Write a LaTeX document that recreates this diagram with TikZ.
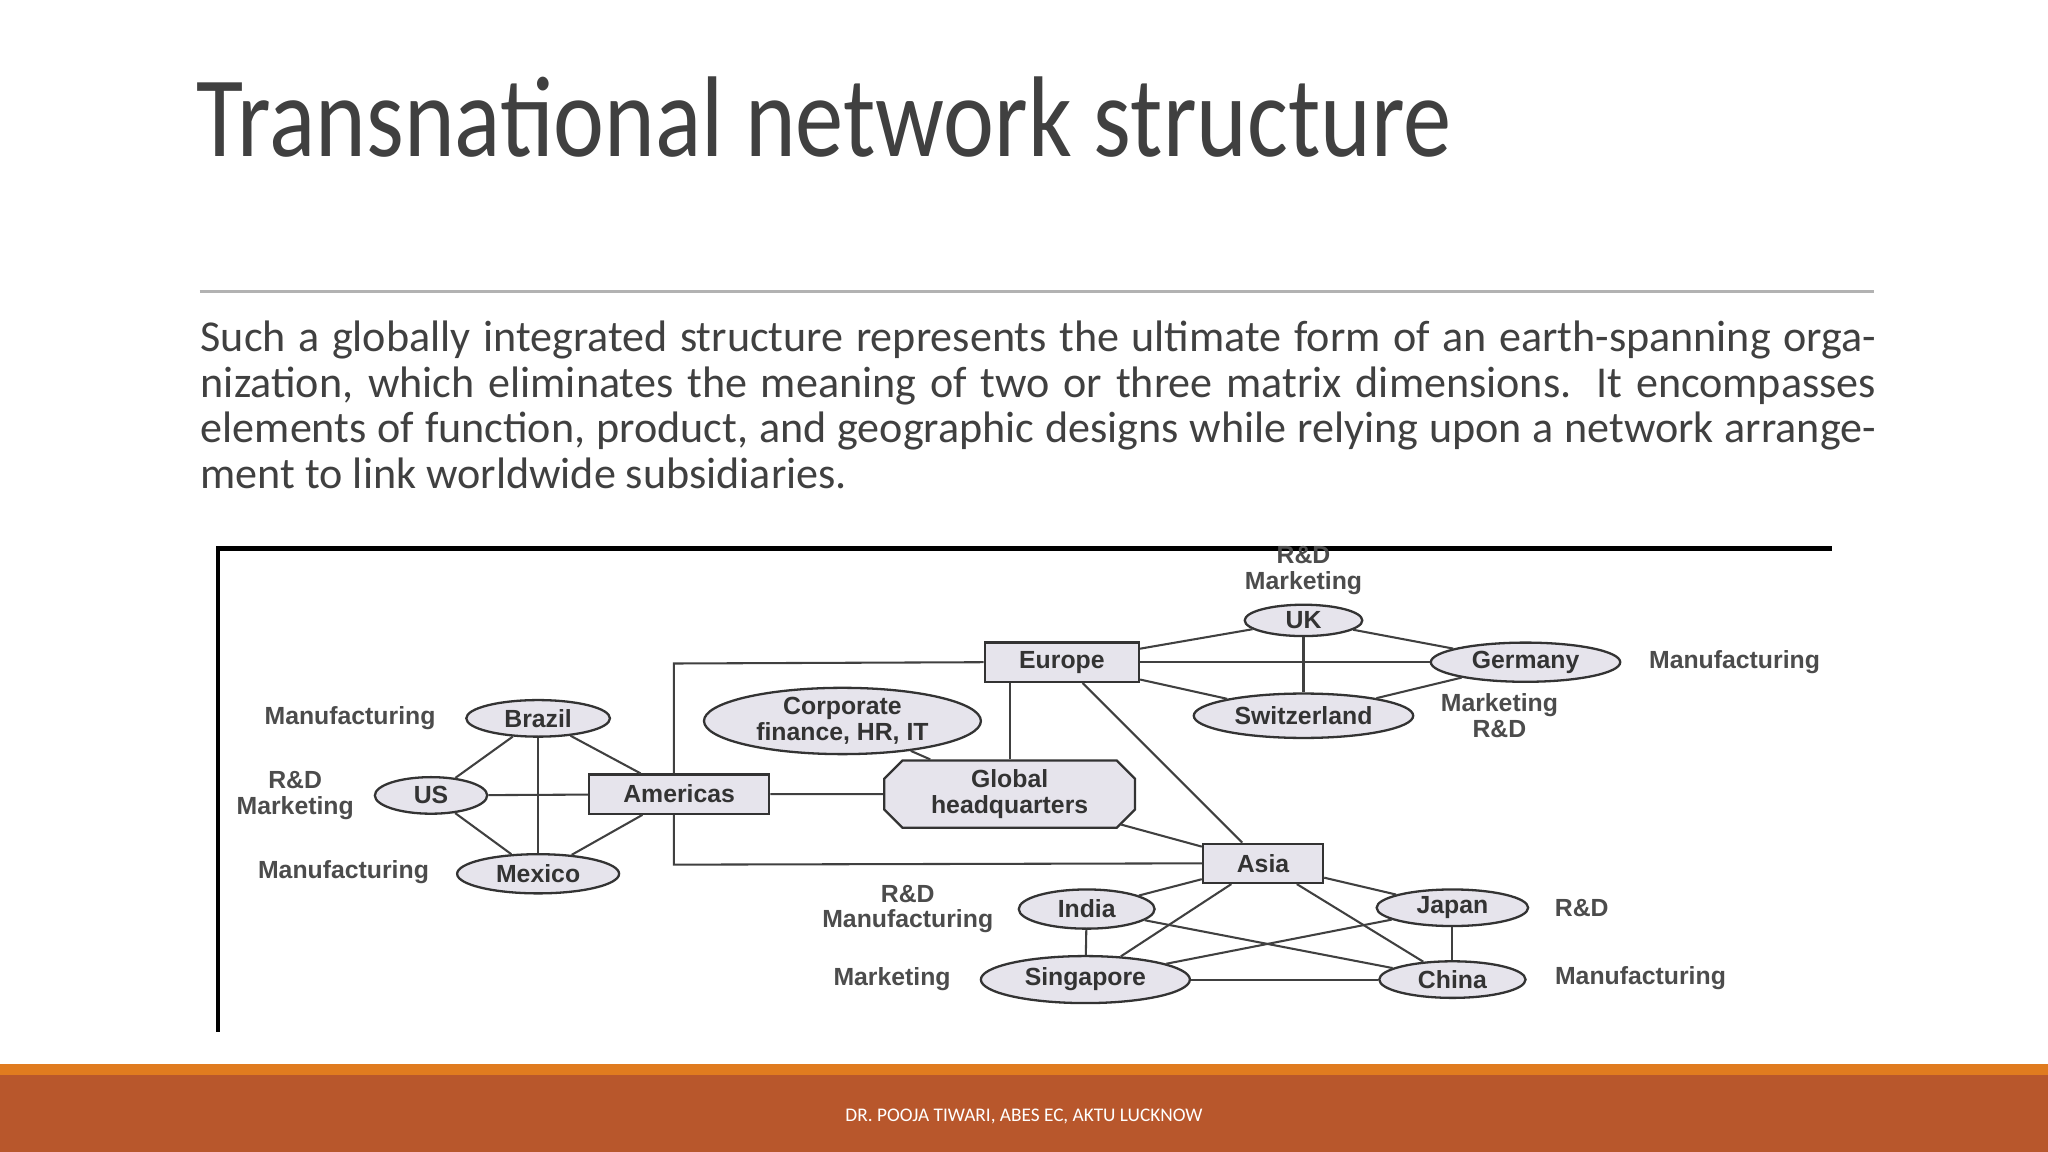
\documentclass[tikz,border=0pt]{standalone}
\usepackage{fontspec}
\setmainfont{Carlito}
\newfontfamily\diag{Liberation Sans}
\usetikzlibrary{shapes.geometric,shapes.misc}
\definecolor{txt}{HTML}{404040}
\definecolor{nodefill}{HTML}{E6E4EC}
\definecolor{footA}{HTML}{E07B1F}
\definecolor{footB}{HTML}{B8572C}
\tikzset{
 dfont/.style={font=\diag\fontsize{5.4}{5.6}\selectfont\bfseries},
 ell/.style={ellipse,draw=black!80,fill=nodefill,line width=0.5pt,inner sep=0,dfont,text=black!80,align=center},
 box/.style={rectangle,draw=black!80,fill=nodefill,line width=0.5pt,inner sep=0,dfont,text=black!80,align=center},
 lab/.style={dfont,text=black!70,align=center,inner sep=0},
 edge/.style={draw=black!75,line width=0.45pt}
}
\begin{document}
\begin{tikzpicture}[x=0.01cm,y=-0.01cm]
\useasboundingbox (0,0) rectangle (1568,882);
\fill[white] (0,0) rectangle (1568,882);
% title
\node[anchor=base west,inner sep=0,text=txt,font=\fontsize{25}{28}\selectfont] (title) at (150,120) {\scalebox{0.84}[1]{Transnational network structure}};
\draw[black!30,line width=0.6pt] (153,223) -- (1435,223);
\node[anchor=north west,inner sep=0,text=txt,text width=12.82cm,align=justify,font=\fontsize{9.6}{9.95}\selectfont] (para) at (153,245) {Such a globally integrated structure represents the ultimate form of an earth-spanning organization, which eliminates the meaning of two or three matrix dimensions. It encompasses elements of function, product, and geographic designs while relying upon a network arrangement to link worldwide subsidiaries.};
% diagram frame
\draw[black,line width=1pt] (167,790) -- (167,420) -- (1403,420);
% nodes
\node[ell,minimum width=90*0.01cm,minimum height=24*0.01cm] (UK) at (998,475) {UK};
\node[ell,minimum width=145*0.01cm,minimum height=30*0.01cm] (Germany) at (1168,507) {Germany};
\node[box,minimum width=118*0.01cm,minimum height=30*0.01cm] (Europe) at (813,507) {Europe};
\node[ell,minimum width=168*0.01cm,minimum height=34*0.01cm] (Switz) at (998,548) {Switzerland};
\node[ell,minimum width=212*0.01cm,minimum height=50*0.01cm] (Corp) at (645,552) {Corporate\\finance, HR, IT};
\node[chamfered rectangle,chamfered rectangle xsep=0.07cm,chamfered rectangle ysep=0.07cm,draw=black!80,fill=nodefill,line width=0.5pt,inner sep=0,dfont,text=black!80,align=center,minimum width=192*0.01cm,minimum height=42*0.01cm] (GHQ) at (773,608) {Global\\headquarters};
\node[box,minimum width=138*0.01cm,minimum height=30*0.01cm] (Americas) at (520,608) {Americas};
\node[ell,minimum width=110*0.01cm,minimum height=28*0.01cm] (Brazil) at (412,550) {Brazil};
\node[ell,minimum width=86*0.01cm,minimum height=28*0.01cm] (US) at (330,609) {US};
\node[ell,minimum width=124*0.01cm,minimum height=30*0.01cm] (Mexico) at (412,669) {Mexico};
\node[box,minimum width=92*0.01cm,minimum height=30*0.01cm] (Asia) at (967,661) {Asia};
\node[ell,minimum width=104*0.01cm,minimum height=30*0.01cm] (India) at (832,696) {India};
\node[ell,minimum width=116*0.01cm,minimum height=28*0.01cm] (Japan) at (1112,695) {Japan};
\node[ell,minimum width=160*0.01cm,minimum height=36*0.01cm] (Sing) at (831,750) {Singapore};
\node[ell,minimum width=112*0.01cm,minimum height=28*0.01cm] (China) at (1112,750) {China};
% labels
\node[lab] (l1) at (998,437) {R\&D\\Marketing};
\node[lab] (l2) at (1328,507) {Manufacturing};
\node[lab] (l3) at (1148,548) {Marketing\\R\&D};
\node[lab] (l4) at (268,550) {Manufacturing};
\node[lab] (l5) at (226,609) {R\&D\\Marketing};
\node[lab] (l6) at (263,668) {Manufacturing};
\node[lab] (l7) at (695,696) {R\&D\\Manufacturing};
\node[lab] (l8) at (1211,695) {R\&D};
\node[lab] (l9) at (683,750) {Marketing};
\node[lab] (l10) at (1256,749) {Manufacturing};
% edges
\coordinate (amT) at (516,508);
\coordinate (amB) at (516,662);
\draw[edge] (UK) -- (Europe);
\draw[edge] (UK) -- (Germany);
\draw[edge] (UK) -- (Switz);
\draw[edge] (Europe) -- (Germany);
\draw[edge] (Europe) -- (Switz);
\draw[edge] (Switz) -- (Germany);
\draw[edge] (Europe) -- (Asia);
\draw[edge] (GHQ.north) -- (GHQ.north |- Europe.south);
\draw[edge] (Europe.west) -- (amT) -- (Americas.north -| amT);
\draw[edge] (Americas.south -| amB) -- (amB) -- (Asia.west);
\draw[edge] (Americas) -- (GHQ);
\draw[edge] (Corp) -- (GHQ);
\draw[edge] (GHQ) -- (Asia);
\draw[edge] (Americas) -- (Brazil);
\draw[edge] (Americas) -- (US);
\draw[edge] (Americas) -- (Mexico);
\draw[edge] (Brazil) -- (US);
\draw[edge] (US) -- (Mexico);
\draw[edge] (Brazil) -- (Mexico);
\draw[edge] (Asia) -- (India);
\draw[edge] (Asia) -- (Japan);
\draw[edge] (Asia) -- (Sing);
\draw[edge] (Asia) -- (China);
\draw[edge] (India) -- (Sing);
\draw[edge] (India) -- (China);
\draw[edge] (Sing) -- (Japan);
\draw[edge] (Sing) -- (China);
\draw[edge] (Japan) -- (China);
% footer
\fill[footA] (0,815) rectangle (1568,823);
\fill[footB] (0,823) rectangle (1568,882);
\node[text=white,font=\fontsize{4.2}{5}\selectfont,inner sep=0] (foot) at (784,855) {DR. POOJA TIWARI, ABES EC, AKTU LUCKNOW};
\end{tikzpicture}
\end{document}
